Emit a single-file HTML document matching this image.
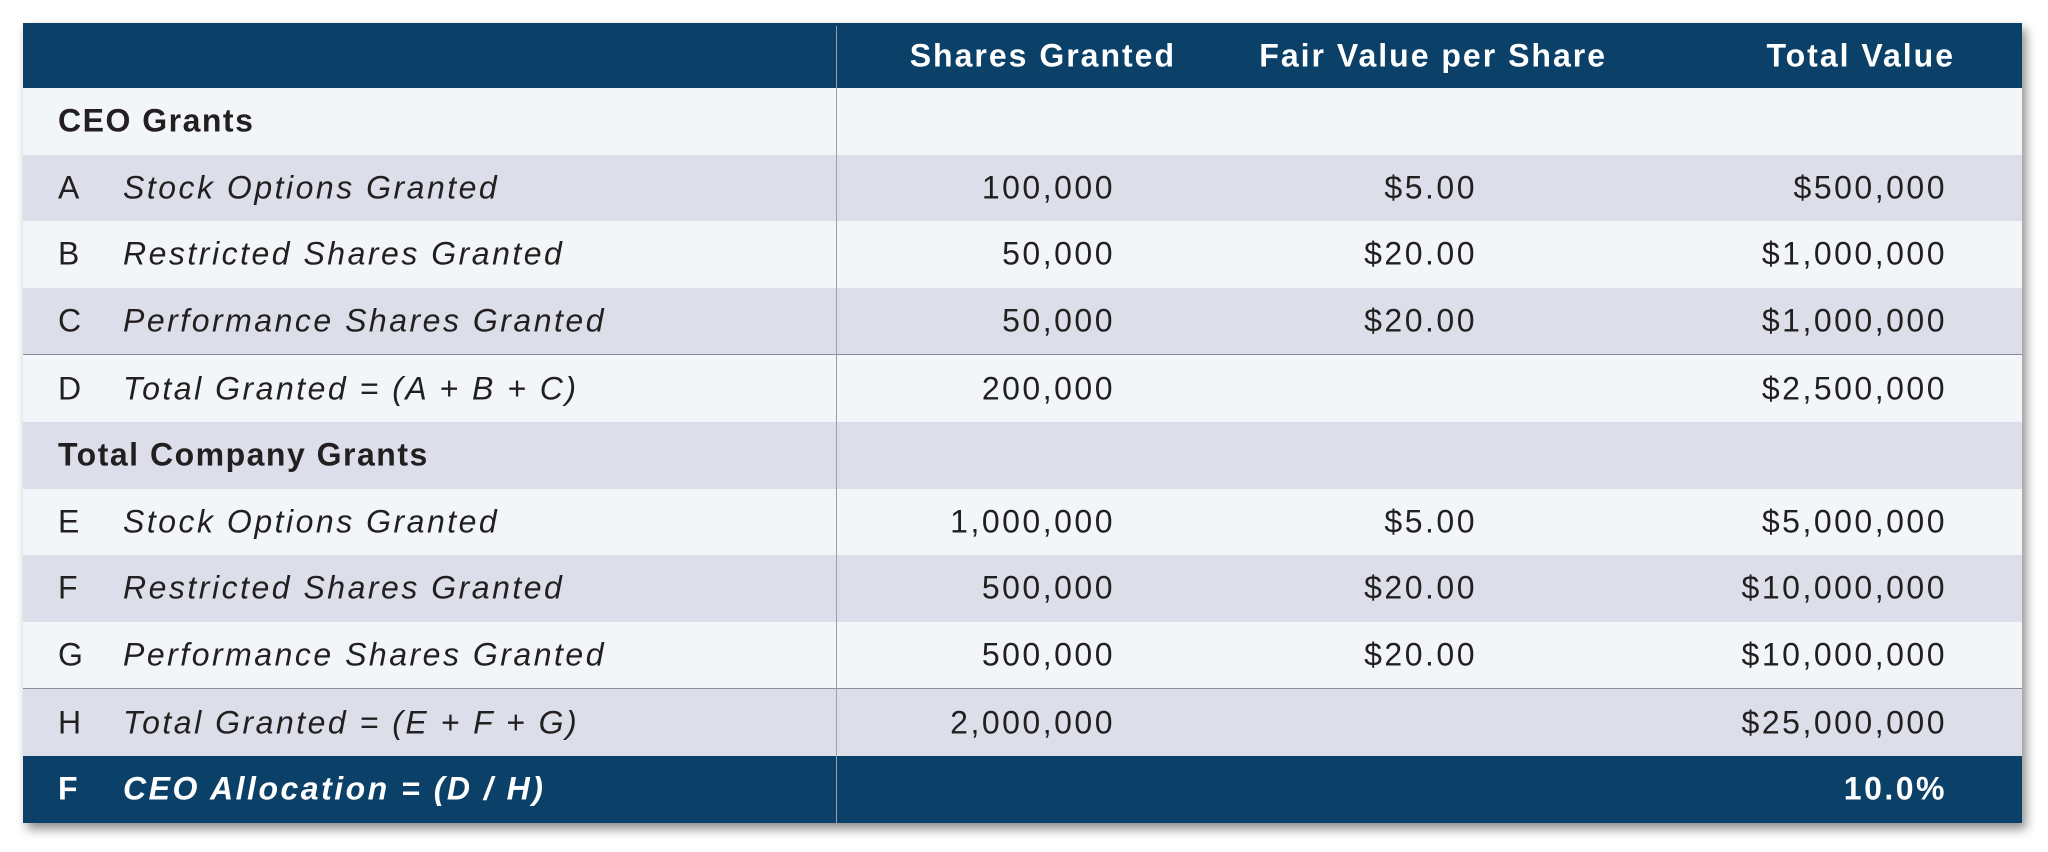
<!DOCTYPE html>
<html><head><style>
body{margin:0;width:2048px;height:852px;background:#fff;overflow:hidden;font-family:"Liberation Sans",sans-serif;}
.t{position:absolute;left:23px;top:23px;width:1999px;box-shadow:4px 6px 10px rgba(0,0,0,0.45);}
.r{position:relative;height:66.6px;color:#231f20;font-size:32px;letter-spacing:2.5px;}
.r span{position:absolute;top:50%;transform:translateY(-50%);white-space:nowrap;}
.l{background:#f3f6f8}.d{background:#dcdfe9}
.h{background:#0b4068;color:#fff;font-weight:bold;height:65px;letter-spacing:2px;}
.f{background:#0b4068;color:#fff;font-weight:bold;}
.k{left:35px}.n{left:100px;font-style:italic}
.c1{right:907px;text-align:right}.c2{right:545px}.c3{right:75px}
.b{font-weight:bold;left:35px;letter-spacing:1.5px}
.bt{border-top:1.5px solid #8a8d96}
.v{position:absolute;left:813px;top:3px;bottom:0;width:1px;background:#9aa0aa;}
</style></head><body>
<div class="t">
<div class="r h"><span class="c1" style="right:846px">Shares Granted</span><span class="c2" style="right:415px">Fair Value per Share</span><span class="c3" style="right:67px">Total Value</span></div>
<div class="r l"><span class="b">CEO Grants</span></div>
<div class="r d"><span class="k">A</span><span class="n">Stock Options Granted</span><span class="c1">100,000</span><span class="c2">$5.00</span><span class="c3">$500,000</span></div>
<div class="r l"><span class="k">B</span><span class="n">Restricted Shares Granted</span><span class="c1">50,000</span><span class="c2">$20.00</span><span class="c3">$1,000,000</span></div>
<div class="r d"><span class="k">C</span><span class="n">Performance Shares Granted</span><span class="c1">50,000</span><span class="c2">$20.00</span><span class="c3">$1,000,000</span></div>
<div class="r l bt"><span class="k">D</span><span class="n">Total Granted = (A + B + C)</span><span class="c1">200,000</span><span class="c3">$2,500,000</span></div>
<div class="r d"><span class="b">Total Company Grants</span></div>
<div class="r l"><span class="k">E</span><span class="n">Stock Options Granted</span><span class="c1">1,000,000</span><span class="c2">$5.00</span><span class="c3">$5,000,000</span></div>
<div class="r d"><span class="k">F</span><span class="n">Restricted Shares Granted</span><span class="c1">500,000</span><span class="c2">$20.00</span><span class="c3">$10,000,000</span></div>
<div class="r l"><span class="k">G</span><span class="n">Performance Shares Granted</span><span class="c1">500,000</span><span class="c2">$20.00</span><span class="c3">$10,000,000</span></div>
<div class="r d bt"><span class="k">H</span><span class="n">Total Granted = (E + F + G)</span><span class="c1">2,000,000</span><span class="c3">$25,000,000</span></div>
<div class="r f"><span class="k">F</span><span class="n">CEO Allocation = (D / H)</span><span class="c3">10.0%</span></div>
<div class="v"></div>
</div>
</body></html>
